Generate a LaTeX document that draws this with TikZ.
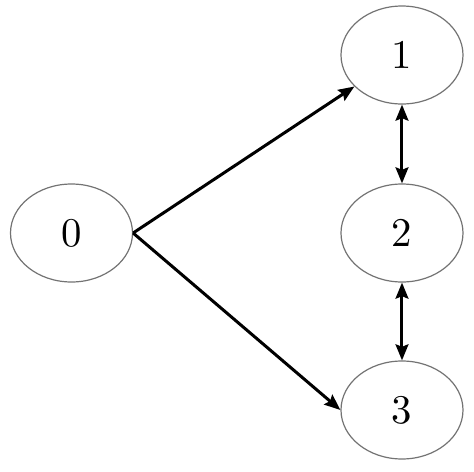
\documentclass[tikz,border=0pt]{standalone}
\usetikzlibrary{arrows.meta,shapes.geometric}
\begin{document}
\begin{tikzpicture}[x=0.25pt,y=-0.25pt,
  vert/.style={ellipse,draw=black!55,line width=0.3pt,minimum width=30.5pt,minimum height=24.5pt,inner sep=0pt,font=\fontsize{10.2}{12}\selectfont},
  tip/.style={},
  edge/.style={line width=0.75pt,-{Stealth[length=4pt,width=3.2pt,inset=0.6pt]}},
  bedge/.style={line width=0.75pt,{Stealth[length=4pt,width=3.2pt,inset=0.6pt]}-{Stealth[length=4pt,width=3.2pt,inset=0.6pt]}}]
\useasboundingbox (0,0) rectangle (474,472);
\node[vert] (n0) at (71.5,233) {0};
\node[vert] (n1) at (402,55) {1};
\node[vert] (n2) at (402,233) {2};
\node[vert] (n3) at (402,410) {3};
\draw[edge] (n0.east) -- (n1);
\draw[edge] (n0.east) -- (n3.west);
\draw[bedge] (n1) -- (n2);
\draw[bedge] (n2) -- (n3);
\end{tikzpicture}
\end{document}
